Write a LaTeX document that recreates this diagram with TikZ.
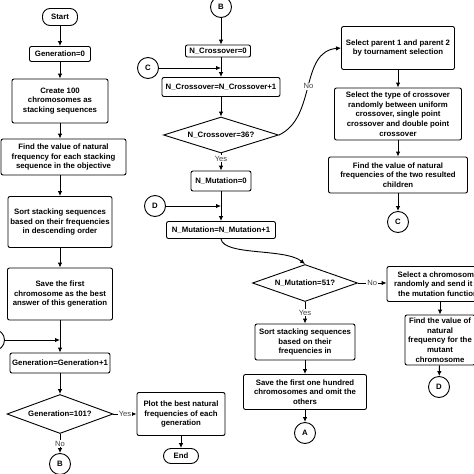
\documentclass[tikz,border=0pt]{standalone}
\usepackage{fontspec}
\setmainfont{Liberation Sans}
\usetikzlibrary{arrows.meta,shapes.geometric}

\begin{document}
\begin{tikzpicture}[
    x=1pt, y=-1pt,
    box/.style={rectangle, rounded corners=2pt, draw=black, line width=0.9pt,
                font=\fontsize{7.8}{9.7}\selectfont\bfseries, align=center,
                inner sep=1pt},
    term/.style={rectangle, rounded corners=7.5pt, draw=black, line width=0.9pt,
                 font=\fontsize{7.8}{9.7}\selectfont\bfseries, inner sep=1pt},
    decision/.style={diamond, aspect=2.7, draw=black, line width=0.9pt,
                     font=\fontsize{7.8}{9.7}\selectfont\bfseries, inner sep=0pt},
    connector/.style={circle, draw=black, line width=0.9pt, minimum size=21pt,
                      inner sep=0pt, font=\fontsize{7.8}{9.7}\selectfont\bfseries},
    flow/.style={-{Latex[length=5pt, width=4.5pt]}, line width=0.9pt, black},
    lbl/.style={font=\fontsize{7.6}{9}\selectfont, text=black!75, fill=white,
                inner sep=1pt},
]

\useasboundingbox (0,0) rectangle (474,474);

% Column x-positions
\def\xl{60}
\def\xm{221}
\def\xr{398}

% === Outer loop (left column) ===
\node[term, minimum width=35pt, minimum height=17pt] (start) at (\xl,17) {Start};
\node[box, minimum width=61pt, minimum height=15pt] (gen0) at (\xl,54) {Generation=0};
\node[box, minimum width=96pt, minimum height=44pt] (create) at (\xl,101)
    {Create 100\\chromosomes as\\stacking sequences};
\node[box, minimum width=125pt, minimum height=36pt] (findnat) at (63.5,157)
    {Find the value of natural\\frequency for each stacking\\sequence in the objective};
\node[box, minimum width=104pt, minimum height=51pt] (sortgen) at (\xl,222)
    {Sort stacking sequences\\based on their frequencies\\in descending order};
\node[box, minimum width=105pt, minimum height=52pt] (savebest) at (\xl,294)
    {Save the first\\chromosome as the best\\answer of this generation};
\node[box, minimum width=100pt, minimum height=20pt] (geninc) at (\xl,363)
    {Generation=Generation+1};
\node[decision, minimum width=106pt, minimum height=39pt] (gentest) at (\xl,414)
    {Generation=101?};
\node[box, minimum width=88pt, minimum height=43pt] (plot) at (181,414)
    {Plot the best natural\\frequencies of each\\generation};
\node[term, minimum width=35pt, minimum height=15pt] (end) at (181,456) {End};

% === Crossover / mutation loop (middle column) ===
\node[box, minimum width=65pt, minimum height=12pt] (ncross0) at (218,51)
    {N\_Crossover=0};
\node[box, minimum width=118pt, minimum height=19pt] (ncrossinc) at (\xm,87)
    {N\_Crossover=N\_Crossover+1};
\node[decision, minimum width=115pt, minimum height=36pt] (crosstest) at (\xm,135)
    {N\_Crossover=36?};
\node[box, minimum width=60pt, minimum height=20pt] (nmut0) at (\xm,181)
    {N\_Mutation=0};
\node[box, minimum width=109pt, minimum height=17pt] (nmutinc) at (\xm,230)
    {N\_Mutation=N\_Mutation+1};
\node[decision, minimum width=105pt, minimum height=37pt] (muttest) at (305,283)
    {N\_Mutation=51?};
\node[box, minimum width=100pt, minimum height=36pt] (sortall) at (305,342)
    {Sort stacking sequences\\based on their\\frequencies in};
\node[box, minimum width=123pt, minimum height=35pt] (savehund) at (305,392)
    {Save the first one hundred\\chromosomes and omit the\\others};

% === Right column ===
\node[box, minimum width=113pt, minimum height=43pt] (selpar) at (\xr,48)
    {Select parent 1 and parent 2\\by tournament selection};
\node[box, minimum width=127pt, minimum height=52pt] (seltype) at (\xr,114)
    {Select the type of crossover\\randomly between uniform\\crossover, single point\\crossover and double point\\crossover};
\node[box, minimum width=139pt, minimum height=36pt] (findchild) at (\xr,175)
    {Find the value of natural\\frequencies of the two resulted\\children};
\node[box, minimum width=102pt, minimum height=35pt] (selchrom) at (438,284)
    {Select a chromosome\\randomly and send it to\\the mutation function};
\node[box, minimum width=70pt, minimum height=50pt] (findmut) at (440,340)
    {Find the value of\\natural\\frequency for the\\mutant\\chromosome};

% --- Off-page connectors ---
\foreach \name/\txt/\xpos/\ypos in {cA1/A/-6/340, cB1/B/60/464, cB2/B/221/7,
        cC1/C/148/68, cC2/C/398/222, cD1/D/155/206, cD2/D/439/387, cA2/A/305/433} {
    \node[connector] (\name) at (\xpos,\ypos) {\txt};
}
\coordinate (bin) at (221,-14);

% --- Connections ---
% Left column
\draw[flow] (start) -- (gen0);
\draw[flow] (gen0) -- (create);
\draw[flow] (create.south) -- (create.south |- findnat.north);
\draw[flow] (findnat.south -| sortgen.north) -- (sortgen.north);
\draw[flow] (sortgen) -- (savebest);
\draw[flow] (savebest) -- (geninc);
\draw[flow] (cA1) -- (cA1 -| geninc.north);
\draw[flow] (geninc) -- (gentest);
\draw[flow] (gentest) -- node[lbl] {No} (cB1);
\draw[flow] (gentest) -- node[lbl] {Yes} (plot);
\draw[flow] (plot) -- (end);
% Middle column
\draw[flow] (bin) -- (cB2);
\draw[flow] (cB2.south) -- (cB2.south |- ncross0.north);
\draw[flow] (ncross0.south -| ncrossinc.north) -- (ncrossinc.north);
\draw[flow] (cC1) -- (cC1 -| ncrossinc.north);
\draw[flow] (ncrossinc) -- (crosstest);
\draw[flow] (crosstest) -- node[lbl, pos=0.3] {Yes} (nmut0);
\draw[flow] (crosstest.east) to[out=25, in=185] node[lbl] {No} (selpar.west);
\draw[flow] (nmut0) -- (nmutinc);
\draw[flow] (cD1) -- (cD1 -| nmutinc.north);
\draw[flow] (nmutinc.south) .. controls (224,256) and (285,248) .. (muttest.north);
\draw[flow] (muttest) -- node[lbl] {Yes} (sortall);
\draw[flow] (muttest.east) -- node[lbl] {No} (muttest.east -| selchrom.west);
\draw[flow] (sortall) -- (savehund);
\draw[flow] (savehund) -- (cA2);
% Right column
\draw[flow] (selpar) -- (seltype);
\draw[flow] (seltype) -- (findchild);
\draw[flow] (findchild) -- (cC2);
\draw[flow] (selchrom.south -| findmut.north) -- (findmut.north);
\draw[flow] (findmut) -- (cD2);

\end{tikzpicture}
\end{document}
